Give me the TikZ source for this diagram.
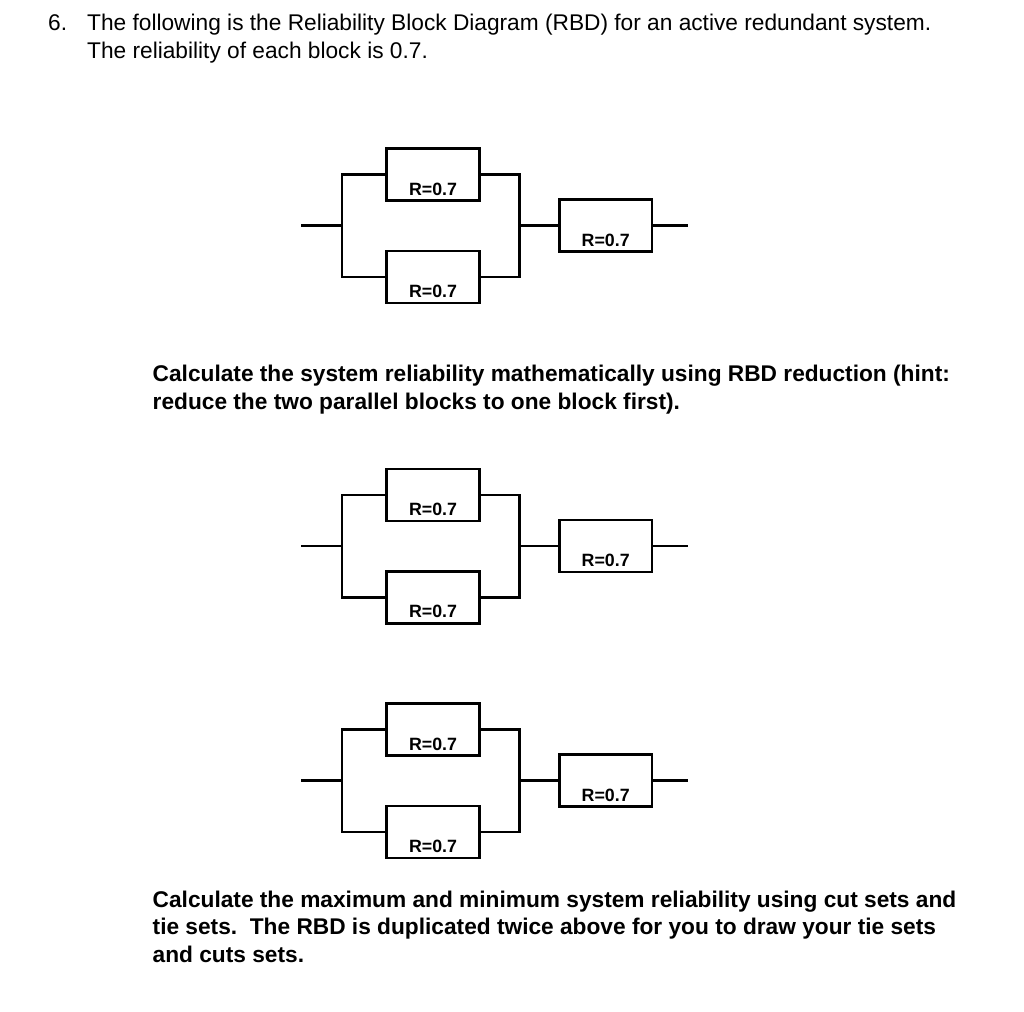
\documentclass[tikz,border=0pt]{standalone}
\usepackage{fontspec}
\setmainfont{Liberation Sans}
\usetikzlibrary{positioning}

\tikzset{
	blk/.style={draw, line width=2.6pt, minimum width=92.5pt, minimum height=52pt, inner sep=0pt, outer sep=0pt},
	rlab/.style={anchor=base, inner sep=0pt, font=\bfseries\fontsize{17.8}{20}\selectfont},
	wire/.style={line width=2.6pt},
	txt/.style={anchor=base west, inner sep=0pt, font=\fontsize{22.7}{28}\selectfont},
	btxt/.style={txt, font=\bfseries\fontsize{22.7}{28}\selectfont},
}

\begin{document}
\begin{tikzpicture}[x=1pt, y=-1pt]
			%%%%% START %%%%%
			\useasboundingbox (0, 0) rectangle (1024, 1011);
			
			\node[txt] (num) at (48, 30.7) {6.};
			\node[txt] (q1) at (87, 30.7) {The following is the Reliability Block Diagram (RBD) for an active redundant system.};
			\node[txt] (q2) at (87, 59) {The reliability of each block is 0.7.};
			
			% first RBD
			\node[blk] (a1) at (433, 174.5) {};
			\node[blk] (b1) at (433, 277) {};
			\node[blk] (c1) at (605.7, 225.7) {};
			\node[rlab] (a1t) at ([yshift=5.5pt]a1.south) {R=0.7};
			\node[rlab] (b1t) at ([yshift=5.5pt]b1.south) {R=0.7};
			\node[rlab] (c1t) at ([yshift=5.5pt]c1.south) {R=0.7};
			\coordinate (in1) at (301, 225.7);
			\coordinate (jl1) at (342, 225.7);
			\coordinate (jr1) at (519.3, 225.7);
			\coordinate (out1) at (688, 225.7);
			\draw[wire] (in1) -- (jl1);
			\draw[wire] (a1.west) -| (jl1) |- (b1.west);
			\draw[wire] (a1.east) -| (jr1) |- (b1.east);
			\draw[wire] (jr1) -- (c1);
			\draw[wire] (c1) -- (out1);
			
			\node[btxt] (p1) at (152.5, 381) {Calculate the system reliability mathematically using RBD reduction (hint:};
			\node[btxt] (p2) at (152.5, 409) {reduce the two parallel blocks to one block first).};
			
			% second RBD
			\node[blk] (a2) at (433, 494.8) {};
			\node[blk] (b2) at (433, 597.3) {};
			\node[blk] (c2) at (605.7, 546) {};
			\node[rlab] (a2t) at ([yshift=5.5pt]a2.south) {R=0.7};
			\node[rlab] (b2t) at ([yshift=5.5pt]b2.south) {R=0.7};
			\node[rlab] (c2t) at ([yshift=5.5pt]c2.south) {R=0.7};
			\coordinate (in2) at (301, 546);
			\coordinate (jl2) at (342, 546);
			\coordinate (jr2) at (519.3, 546);
			\coordinate (out2) at (688, 546);
			\draw[wire] (in2) -- (jl2);
			\draw[wire] (a2.west) -| (jl2) |- (b2.west);
			\draw[wire] (a2.east) -| (jr2) |- (b2.east);
			\draw[wire] (jr2) -- (c2);
			\draw[wire] (c2) -- (out2);
			
			% third RBD
			\node[blk] (a3) at (433, 729.5) {};
			\node[blk] (b3) at (433, 832) {};
			\node[blk] (c3) at (605.7, 780.7) {};
			\node[rlab] (a3t) at ([yshift=5.5pt]a3.south) {R=0.7};
			\node[rlab] (b3t) at ([yshift=5.5pt]b3.south) {R=0.7};
			\node[rlab] (c3t) at ([yshift=5.5pt]c3.south) {R=0.7};
			\coordinate (in3) at (301, 780.7);
			\coordinate (jl3) at (342, 780.7);
			\coordinate (jr3) at (519.3, 780.7);
			\coordinate (out3) at (688, 780.7);
			\draw[wire] (in3) -- (jl3);
			\draw[wire] (a3.west) -| (jl3) |- (b3.west);
			\draw[wire] (a3.east) -| (jr3) |- (b3.east);
			\draw[wire] (jr3) -- (c3);
			\draw[wire] (c3) -- (out3);
			
			\node[btxt] (r1) at (152.5, 907) {Calculate the maximum and minimum system reliability using cut sets and};
			\node[btxt] (r2) at (152.5, 934.5) {tie sets.\ \ The RBD is duplicated twice above for you to draw your tie sets};
			\node[btxt] (r3) at (152.5, 962) {and cuts sets.};
			
			%%%%% END %%%%%
\end{tikzpicture}
\end{document}
